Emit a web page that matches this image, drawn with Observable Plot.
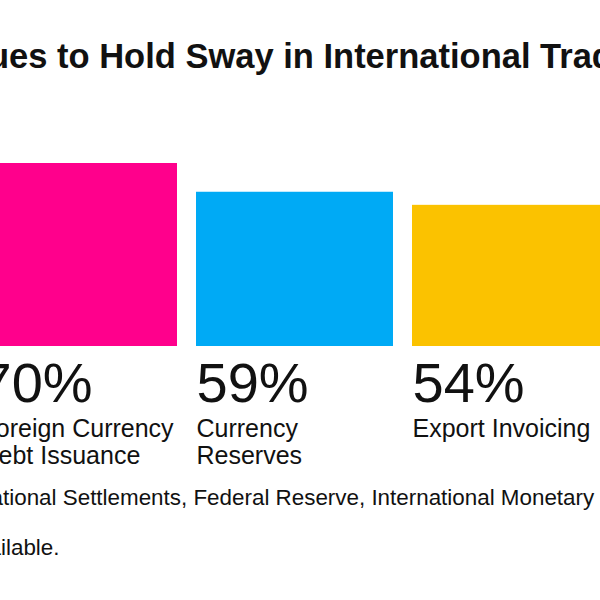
<!DOCTYPE html>
<html><head><meta charset="utf-8">
<script src="https://cdn.jsdelivr.net/npm/d3@7"></script>
<script src="https://cdn.jsdelivr.net/npm/@observablehq/plot@0.6"></script>
<style>
html,body{margin:0;padding:0;background:#fff;}
#page{position:relative;width:600px;height:600px;overflow:hidden;font-family:"Liberation Sans",Arial,sans-serif;color:#111;}
.line{position:absolute;white-space:nowrap;line-height:1;}
#title{font-weight:bold;font-size:34.5px;}
.foot{font-size:22.4px;}
#chart{position:absolute;left:0;top:0;}
</style></head><body>
<div id="page">
  <div id="chart"></div>
  <div id="title" class="line"></div>
  <div id="source" class="line foot"></div>
  <div id="note" class="line foot"></div>
</div>
<script>
// ---- data ----
const categories = ["Foreign Currency\nDebt Issuance", "Currency\nReserves", "Export Invoicing"];
const shares = [70, 59, 54];
const shareLabels = ["70%", "59%", "54%"];
const colors = ["#ff008c", "#00aaf5", "#fbc200"];
const titleText = "Dollar Continues to Hold Sway in International Trade";
const titleHidden = "Dollar Contin";
const sourceText = "Source: Bank for International Settlements, Federal Reserve, International Monetary Fund";
const sourceHidden = "Source: Bank for Interna";
const noteText = "Note: Latest data available.";
const noteHidden = "Note: Latest data ava";

// ---- chart ----
const data = categories.map((c, i) => ({category: c, share: shares[i], label: shareLabels[i]}));
const padInner = 0.09;
const step = 216.5;
const bw = step * (1 - padInner);
const x0 = -21;

const chart = Plot.plot({
  width: 600, height: 600, margin: 0,
  style: {background: "transparent", fontFamily: "Liberation Sans, Arial, sans-serif", color: "#111"},
  x: {domain: categories, range: [x0, x0 + step * (categories.length - padInner)], paddingInner: padInner, paddingOuter: 0, axis: null},
  y: {domain: [0, 70], range: [346, 163], axis: null},
  color: {domain: categories, range: colors},
  marks: [
    Plot.barY(data, {x: "category", y: "share", fill: "category"}),
    Plot.text(data, {x: "category", y: 0, text: "label", textAnchor: "start", lineAnchor: "bottom",
      dx: -bw / 2, dy: 55, fontSize: 56, fill: "#111"}),
    Plot.text(data, {x: "category", y: 0, text: "category", textAnchor: "start", lineAnchor: "top",
      lineHeight: 1.08, dx: -bw / 2, dy: 71, fontSize: 25, fill: "#111"})
  ]
});
document.getElementById("chart").appendChild(chart);

// ---- title & footer (cropped like the reference) ----
const ctx = document.createElement("canvas").getContext("2d");
function place(id, text, hidden, font, baseline, extra) {
  const el = document.getElementById(id);
  el.textContent = text;
  ctx.font = font;
  const w = ctx.measureText(hidden).width;
  el.style.left = (-(w + extra)) + "px";
  const fs = parseFloat(font.match(/([\d.]+)px/)[1]);
  el.style.top = (baseline - fs * 0.905 - (fs * 1 - fs * 1.149) / 2) + "px";
}
place("title", titleText, titleHidden, "bold 34.5px 'Liberation Sans'", 68, 12);
place("source", sourceText, sourceHidden, "22.4px 'Liberation Sans'", 506, -3);
place("note", noteText, noteHidden, "22.4px 'Liberation Sans'", 556, -1);
</script>
</body></html>
